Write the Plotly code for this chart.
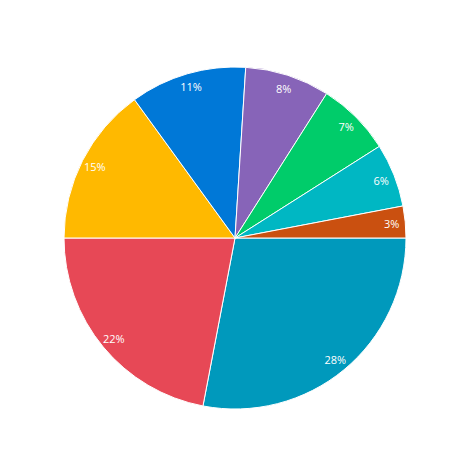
import plotly.graph_objects as go

labels = ['A', 'B', 'C', 'D', 'E', 'F', 'G', 'H']
values = [28, 22, 15, 11, 8, 7, 6, 3]
colors = ['#0099BC', '#E74856', '#FFB900', '#0078D7', '#8764B8', '#00CC6A', '#00B7C3', '#CA5010']

common = dict(labels=labels, values=values, sort=False, direction='clockwise', rotation=90)

fig = go.Figure()
# coloured slices, no text
fig.add_trace(go.Pie(
    **common,
    marker=dict(colors=colors, line=dict(color='white', width=1)),
    textinfo='none',
    hoverinfo='label+percent',
))
# transparent ring on top, only to put the labels near the rim
fig.add_trace(go.Pie(
    **common,
    hole=0.84,
    marker=dict(colors=['rgba(0,0,0,0)'] * len(values), line=dict(width=0)),
    textinfo='percent',
    textposition='inside',
    insidetextorientation='horizontal',
    textfont=dict(color='white', size=11, family='Open Sans'),
    hoverinfo='skip',
))

fig.update_layout(
    width=474, height=474,
    margin=dict(l=56, r=76, t=59, b=73),
    showlegend=False,
    paper_bgcolor='white',
)

fig.write_html("out.html")
